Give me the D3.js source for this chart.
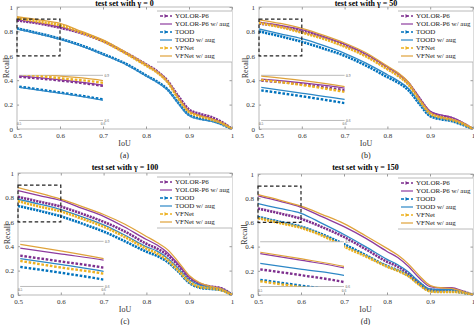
<!DOCTYPE html>
<html>
<head>
<meta charset="utf-8">
<script src="https://cdn.jsdelivr.net/npm/d3@7"></script>
<style>
  body { margin: 0; background: #fff; }
  svg { display: block; font-family: "Liberation Serif", "DejaVu Serif", serif; }
</style>
</head>
<body>
<div id="chart"></div>
<script>
// shared x positions (IoU threshold)
var iou = [0.5, 0.55, 0.6, 0.65, 0.7, 0.75, 0.8, 0.825, 0.85, 0.875, 0.9, 0.925, 0.95, 0.975, 1];

// (a) gamma = 0
var a_yolor    = [0.89, 0.865, 0.83, 0.785, 0.72, 0.63, 0.53, 0.475, 0.395, 0.27, 0.16, 0.125, 0.10, 0.06, 0];
var a_yolorAug = [0.895, 0.87, 0.835, 0.79, 0.725, 0.63, 0.525, 0.47, 0.39, 0.26, 0.15, 0.115, 0.09, 0.055, 0];
var a_tood     = [0.825, 0.785, 0.74, 0.685, 0.615, 0.54, 0.44, 0.39, 0.325, 0.215, 0.115, 0.085, 0.07, 0.04, 0];
var a_toodAug  = [0.82, 0.78, 0.735, 0.68, 0.61, 0.535, 0.435, 0.385, 0.32, 0.21, 0.11, 0.08, 0.065, 0.04, 0];
var a_vfnet    = [0.91, 0.88, 0.85, 0.79, 0.72, 0.625, 0.52, 0.465, 0.385, 0.25, 0.14, 0.105, 0.08, 0.05, 0];
var a_vfnetAug = [0.92, 0.895, 0.865, 0.80, 0.73, 0.635, 0.53, 0.47, 0.39, 0.255, 0.145, 0.11, 0.085, 0.05, 0];

// (b) gamma = 50
var b_yolor    = [0.865, 0.84, 0.80, 0.75, 0.685, 0.605, 0.50, 0.445, 0.37, 0.25, 0.14, 0.11, 0.09, 0.05, 0];
var b_yolorAug = [0.875, 0.85, 0.815, 0.76, 0.695, 0.615, 0.51, 0.455, 0.38, 0.255, 0.145, 0.115, 0.095, 0.055, 0];
var b_tood     = [0.80, 0.76, 0.715, 0.66, 0.60, 0.52, 0.425, 0.38, 0.315, 0.205, 0.105, 0.08, 0.065, 0.035, 0];
var b_toodAug  = [0.82, 0.78, 0.74, 0.685, 0.62, 0.54, 0.445, 0.395, 0.33, 0.215, 0.115, 0.085, 0.07, 0.04, 0];
var b_vfnet    = [0.87, 0.835, 0.79, 0.74, 0.675, 0.595, 0.49, 0.435, 0.36, 0.235, 0.125, 0.095, 0.075, 0.045, 0];
var b_vfnetAug = [0.895, 0.865, 0.825, 0.77, 0.705, 0.625, 0.515, 0.46, 0.38, 0.245, 0.135, 0.10, 0.08, 0.05, 0];

// (c) gamma = 100
var c_yolor    = [0.805, 0.765, 0.725, 0.665, 0.60, 0.52, 0.42, 0.38, 0.325, 0.24, 0.14, 0.09, 0.07, 0.055, 0];
var c_yolorAug = [0.855, 0.815, 0.775, 0.71, 0.645, 0.555, 0.455, 0.41, 0.345, 0.25, 0.145, 0.09, 0.065, 0.055, 0];
var c_tood     = [0.73, 0.69, 0.645, 0.585, 0.52, 0.44, 0.355, 0.32, 0.27, 0.19, 0.10, 0.06, 0.05, 0.04, 0];
var c_toodAug  = [0.785, 0.745, 0.70, 0.64, 0.575, 0.49, 0.395, 0.36, 0.30, 0.215, 0.125, 0.08, 0.065, 0.05, 0];
var c_vfnet    = [0.77, 0.725, 0.685, 0.625, 0.56, 0.475, 0.38, 0.34, 0.285, 0.20, 0.11, 0.065, 0.055, 0.04, 0];
var c_vfnetAug = [0.88, 0.835, 0.785, 0.725, 0.66, 0.58, 0.48, 0.43, 0.37, 0.27, 0.16, 0.10, 0.07, 0.05, 0];

// (d) gamma = 150
var d_yolor    = [0.715, 0.675, 0.63, 0.56, 0.48, 0.38, 0.275, 0.235, 0.175, 0.10, 0.045, 0.04, 0.04, 0.03, 0];
var d_yolorAug = [0.82, 0.775, 0.725, 0.645, 0.565, 0.47, 0.36, 0.31, 0.235, 0.14, 0.07, 0.06, 0.06, 0.035, 0];
var d_tood     = [0.645, 0.605, 0.565, 0.50, 0.42, 0.33, 0.24, 0.205, 0.16, 0.09, 0.035, 0.03, 0.03, 0.02, 0];
var d_toodAug  = [0.755, 0.715, 0.675, 0.59, 0.50, 0.40, 0.295, 0.25, 0.19, 0.11, 0.05, 0.045, 0.045, 0.03, 0];
var d_vfnet    = [0.635, 0.595, 0.555, 0.49, 0.40, 0.32, 0.235, 0.20, 0.155, 0.085, 0.03, 0.025, 0.025, 0.02, 0];
var d_vfnetAug = [0.83, 0.785, 0.735, 0.665, 0.59, 0.49, 0.385, 0.33, 0.255, 0.16, 0.08, 0.06, 0.055, 0.03, 0];

var seriesNames = ["YOLOR-P6", "YOLOR-P6 w/ aug", "TOOD", "TOOD w/ aug", "VFNet", "VFNet w/ aug"];
var titles = ["test set with \u03b3 = 0", "test set with \u03b3 = 50", "test set with \u03b3 = 100", "test set with \u03b3 = 150"];
var panelTags = ["(a)", "(b)", "(c)", "(d)"];
var xTicks = [0.5, 0.6, 0.7, 0.8, 0.9, 1];
var yTicks = [0, 0.2, 0.4, 0.6, 0.8, 1];

var panelData = [
  [a_yolor, a_yolorAug, a_tood, a_toodAug, a_vfnet, a_vfnetAug],
  [b_yolor, b_yolorAug, b_tood, b_toodAug, b_vfnet, b_vfnetAug],
  [c_yolor, c_yolorAug, c_tood, c_toodAug, c_vfnet, c_vfnetAug],
  [d_yolor, d_yolorAug, d_tood, d_toodAug, d_vfnet, d_vfnetAug]
];

// styles per series: dashed ones carry dense triangle markers in the original
var colors = ["#7E2F8E", "#8E3C9E", "#0072BD", "#2C87C6", "#EDB120", "#DFA23A"];
var dashed = [true, false, true, false, true, false];

// plot boxes in pixels
var boxes = [
  {left: 17, right: 232, top: 7, bottom: 129, titleY: 6, ylab: 11},
  {left: 259, right: 473, top: 7, bottom: 129, titleY: 6, ylab: 14},
  {left: 18, right: 232, top: 173, bottom: 295, titleY: 170, ylab: 11},
  {left: 258, right: 473, top: 174, bottom: 295, titleY: 170, ylab: 14}
];

var svg = d3.select("#chart")
  .append("svg")
    .attr("width", 474)
    .attr("height", 325);

var defs = svg.append("defs");

function drawPanel(k) {
  var b = boxes[k];
  var curves = panelData[k];

  var x = d3.scaleLinear().domain([0.5, 1]).range([b.left, b.right]);
  var y = d3.scaleLinear().domain([0, 1]).range([b.bottom, b.top]);

  // inset: zoom of IoU 0.5-0.6 / recall 0.6-0.9, drawn in the lower left
  var ix = d3.scaleLinear().domain([0.5, 0.6]).range([x(0.505), x(0.7)]);
  var iy = d3.scaleLinear().domain([0.6, 0.9]).range([y(0.07), y(0.44)]);

  var g = svg.append("g");

  defs.append("clipPath").attr("id", "clip" + k)
    .append("rect")
      .attr("x", b.left).attr("y", b.top)
      .attr("width", b.right - b.left).attr("height", b.bottom - b.top);
  defs.append("clipPath").attr("id", "iclip" + k)
    .append("rect")
      .attr("x", ix(0.5)).attr("y", iy(0.9))
      .attr("width", ix(0.6) - ix(0.5)).attr("height", iy(0.6) - iy(0.9));

  // axes (MATLAB style: ticks inside, on all four sides)
  var xa = g.append("g")
    .attr("transform", "translate(0," + b.bottom + ")")
    .call(d3.axisBottom(x).tickValues(xTicks).tickSize(-2.5).tickPadding(4).tickFormat(function(d) { return d; }));
  var xt = g.append("g")
    .attr("transform", "translate(0," + b.top + ")")
    .call(d3.axisTop(x).tickValues(xTicks).tickSize(-2.5).tickFormat(""));
  var ya = g.append("g")
    .attr("transform", "translate(" + b.left + ",0)")
    .call(d3.axisLeft(y).tickValues(yTicks).tickSize(-2.5).tickPadding(4).tickFormat(function(d) { return d; }));
  var yr = g.append("g")
    .attr("transform", "translate(" + b.right + ",0)")
    .call(d3.axisRight(y).tickValues(yTicks).tickSize(-2.5).tickFormat(""));

  [xa, xt, ya, yr].forEach(function(a) {
    a.select(".domain").remove();
    a.selectAll("line").attr("stroke", "#9a9a9a");
    a.selectAll("text").attr("fill", "#333").style("font-size", "7px").style("font-family", "Liberation Serif");
  });

  g.append("rect")
    .attr("x", b.left).attr("y", b.top)
    .attr("width", b.right - b.left).attr("height", b.bottom - b.top)
    .attr("fill", "none")
    .attr("stroke", "#a8a8a8")
    .attr("stroke-width", 0.8);

  // main curves
  var line = d3.line()
    .x(function(d, i) { return x(iou[i]); })
    .y(function(d) { return y(d); })
    .curve(d3.curveMonotoneX);

  var main = g.append("g").attr("clip-path", "url(#clip" + k + ")");
  curves.forEach(function(c, i) {
    main.append("path")
      .attr("d", line(c))
      .attr("fill", "none")
      .attr("stroke", colors[i])
      .attr("stroke-width", dashed[i] ? 2.6 : 1.3)
      .attr("stroke-dasharray", dashed[i] ? "2.2,0.9" : null);
  });

  // dashed zoom box
  g.append("rect")
    .attr("x", x(0.5)).attr("y", y(0.9))
    .attr("width", x(0.6) - x(0.5)).attr("height", y(0.6) - y(0.9))
    .attr("fill", "none")
    .attr("stroke", "#222")
    .attr("stroke-width", 1.2)
    .attr("stroke-dasharray", "3.5,2.5");

  // inset
  g.append("rect")
    .attr("x", ix(0.5)).attr("y", iy(0.9))
    .attr("width", ix(0.6) - ix(0.5)).attr("height", iy(0.6) - iy(0.9))
    .attr("fill", "#fff");
  [0.9, 0.6].forEach(function(v) {
    g.append("line")
      .attr("x1", ix(0.5)).attr("x2", ix(0.6))
      .attr("y1", iy(v)).attr("y2", iy(v))
      .attr("stroke", "#a8a8a8").attr("stroke-width", 0.8);
    g.append("text")
      .attr("x", ix(0.6) + 1.5).attr("y", iy(v) + 1.2)
      .style("font-size", "3.5px").attr("fill", "#555")
      .text(v);
  });
  [0.5, 0.6].forEach(function(v) {
    g.append("text")
      .attr("x", ix(v)).attr("y", iy(0.6) + 5)
      .attr("text-anchor", "middle")
      .style("font-size", "3.5px").attr("fill", "#555")
      .text(v);
  });

  var iline = d3.line()
    .x(function(d, i) { return ix(iou[i]); })
    .y(function(d) { return iy(d); })
    .curve(d3.curveMonotoneX);

  var ins = g.append("g").attr("clip-path", "url(#iclip" + k + ")");
  curves.forEach(function(c, i) {
    ins.append("path")
      .attr("d", iline(c))
      .attr("fill", "none")
      .attr("stroke", colors[i])
      .attr("stroke-width", dashed[i] ? 2.4 : 1.2)
      .attr("stroke-dasharray", dashed[i] ? "2.6,1.7" : null);
  });

  // legend, top right corner
  var lx = b.right - 75, ly = b.top + 4;
  g.append("rect")
    .attr("x", lx).attr("y", ly)
    .attr("width", b.right - lx).attr("height", 51)
    .attr("fill", "#fff");
  [ly, ly + 51].forEach(function(v) {
    g.append("line")
      .attr("x1", lx).attr("x2", b.right)
      .attr("y1", v).attr("y2", v)
      .attr("stroke", "#a8a8a8").attr("stroke-width", 0.8);
  });
  seriesNames.forEach(function(name, i) {
    var ry = ly + 5 + i * 8;
    g.append("line")
      .attr("x1", lx + 3).attr("x2", lx + 15)
      .attr("y1", ry).attr("y2", ry)
      .attr("stroke", colors[i])
      .attr("stroke-width", dashed[i] ? 1.4 : 1.2)
      .attr("stroke-dasharray", dashed[i] ? "3,2" : null);
    if (dashed[i]) {
      g.append("path")
        .attr("d", "M" + (lx + 7.5) + "," + (ry - 2) + "L" + (lx + 10.5) + "," + ry + "L" + (lx + 7.5) + "," + (ry + 2) + "Z")
        .attr("fill", colors[i]);
    }
    g.append("text")
      .attr("x", lx + 18).attr("y", ry + 2.3)
      .style("font-size", "7px").attr("fill", "#222")
      .text(name);
  });

  // labels
  g.append("text")
    .attr("x", (b.left + b.right) / 2).attr("y", b.titleY)
    .attr("text-anchor", "middle")
    .style("font-size", "8px").style("font-weight", "bold")
    .text(titles[k]);

  g.append("text")
    .attr("x", (b.left + b.right) / 2).attr("y", b.bottom + 17)
    .attr("text-anchor", "middle")
    .style("font-size", "8px").attr("fill", "#333")
    .text("IoU");

  g.append("text")
    .attr("x", (b.left + b.right) / 2).attr("y", b.bottom + 29)
    .attr("text-anchor", "middle")
    .style("font-size", "8px").attr("fill", "#222")
    .text(panelTags[k]);

  g.append("text")
    .attr("transform", "translate(" + (b.left - b.ylab) + "," + ((b.top + b.bottom) / 2) + ") rotate(-90)")
    .attr("text-anchor", "middle")
    .attr("dy", "0.35em")
    .style("font-size", "8px").attr("fill", "#333")
    .text("Recall");
}

for (var k = 0; k < 4; k++) drawPanel(k);
</script>
</body>
</html>
